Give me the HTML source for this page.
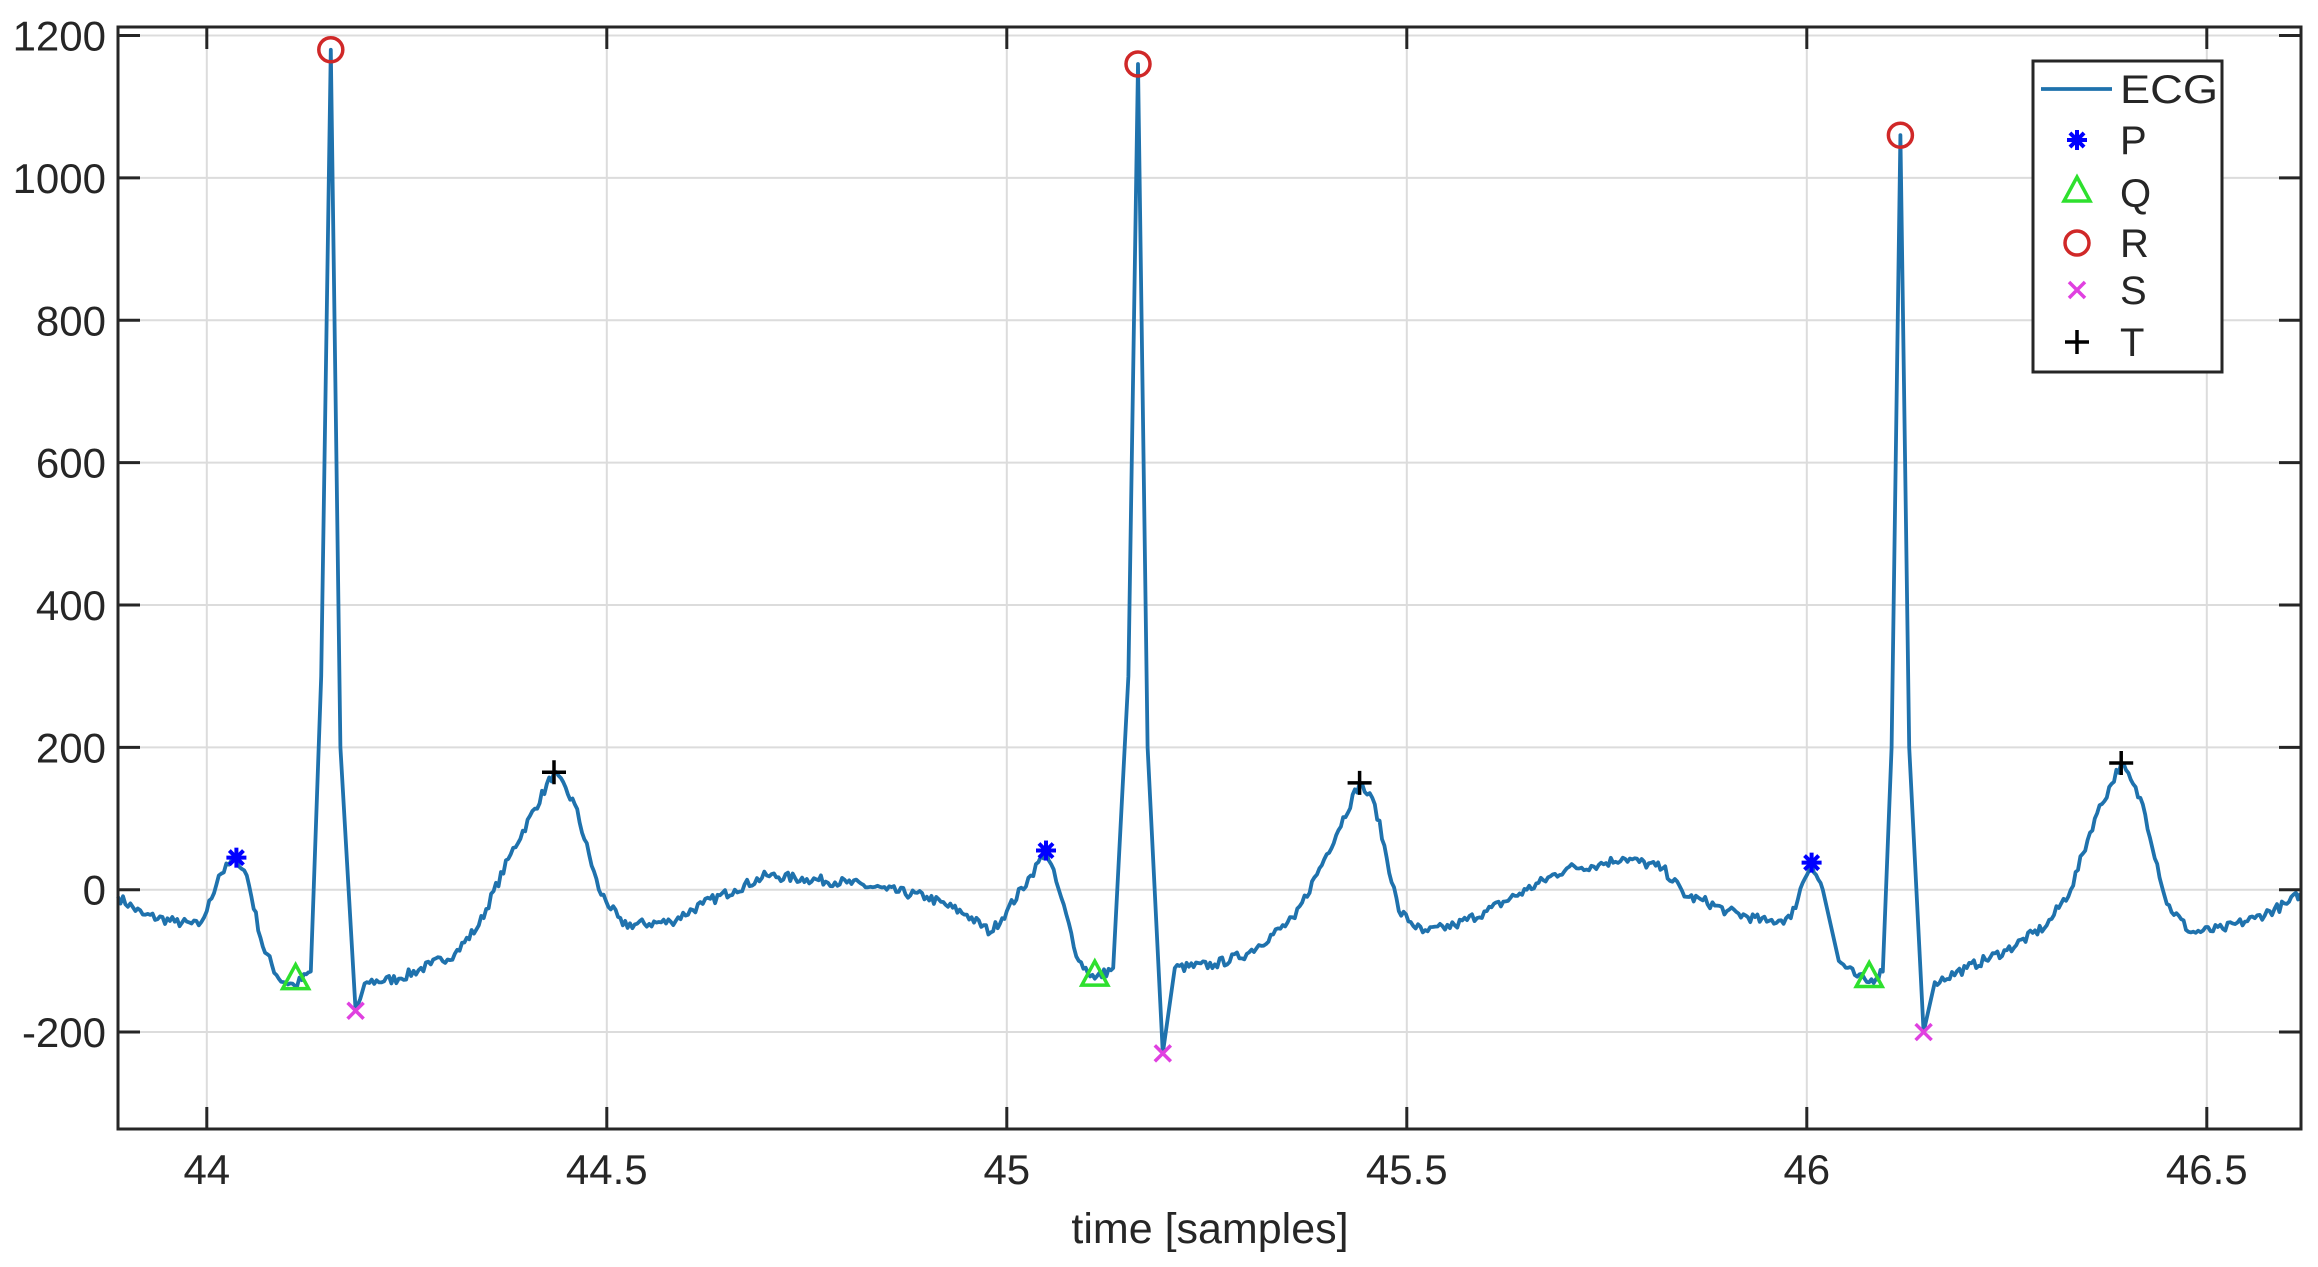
<!DOCTYPE html>
<html><head><meta charset="utf-8">
<style>
html,body{margin:0;padding:0;background:#fff;}
svg{display:block;}
text{font-family:"Liberation Sans",sans-serif;fill:#262626;}
</style></head>
<body>
<svg id="s" width="2318" height="1267" viewBox="0 0 2318 1267" xmlns="http://www.w3.org/2000/svg">
<rect width="2318" height="1267" fill="#fff"/>
<g id="grid" stroke="#dcdcdc" stroke-width="2"></g>
<path id="ecg" fill="none" stroke="#1f72ad" stroke-width="3.8" stroke-linejoin="round"/>
<g id="marks"></g>
<rect x="118" y="27" width="2183" height="1102" fill="none" stroke="#262626" stroke-width="3"/>
<g id="ticks" stroke="#262626" stroke-width="3"></g>
<g id="labels" font-size="42" ></g>
<text x="1210" y="1243" font-size="43" text-anchor="middle">time [samples]</text>
<g>
<rect x="2033" y="61" width="189" height="311" fill="#fff" stroke="#262626" stroke-width="3"/>
<line x1="2041" y1="89" x2="2112" y2="89" stroke="#1f72ad" stroke-width="3.8"/>
<g font-size="40">
<text x="2120" y="103" textLength="98" lengthAdjust="spacingAndGlyphs">ECG</text>
<text x="2120" y="154">P</text>
<text x="2120" y="207">Q</text>
<text x="2120" y="257">R</text>
<text x="2120" y="304">S</text>
<text x="2120" y="356">T</text>
</g>
<g id="legm"></g>
</g>
</svg>
<script>
var X=function(t){return 118+(t-43.889)*800;};
var Y=function(v){return 889.7-v*0.7118;};
var ns="http://www.w3.org/2000/svg";
function el(p,tag,a){var e=document.createElementNS(ns,tag);for(var k in a)e.setAttribute(k,a[k]);p.appendChild(e);return e;}
var grid=document.getElementById('grid'),ticks=document.getElementById('ticks'),labels=document.getElementById('labels');
[44,44.5,45,45.5,46,46.5].forEach(function(t){var x=X(t);
 el(grid,'line',{x1:x,y1:27,x2:x,y2:1129});
 el(ticks,'line',{x1:x,y1:1129,x2:x,y2:1107});el(ticks,'line',{x1:x,y1:27,x2:x,y2:49});
 var tx=el(labels,'text',{x:x,y:1184,'text-anchor':'middle'});tx.textContent=String(t);});
[-200,0,200,400,600,800,1000,1200].forEach(function(v){var y=Y(v);
 el(grid,'line',{x1:118,y1:y,x2:2301,y2:y});
 el(ticks,'line',{x1:118,y1:y,x2:140,y2:y});el(ticks,'line',{x1:2301,y1:y,x2:2279,y2:y});
 var tx=el(labels,'text',{x:106,y:y+15,'text-anchor':'end'});tx.textContent=String(v);});
var k=[[43.889,-10],[43.92,-35],[43.96,-45],[43.99,-50],[44.0,-30],[44.015,20],[44.037,45],[44.05,20],[44.07,-80],[44.09,-125],[44.11,-135],[44.13,-115],[44.143,300],[44.155,1180],[44.167,200],[44.186,-170],[44.2,-130],[44.24,-125],[44.28,-105],[44.31,-90],[44.34,-50],[44.38,50],[44.434,165],[44.46,120],[44.49,0],[44.52,-50],[44.58,-45],[44.62,-20],[44.66,0],[44.7,20],[44.75,15],[44.8,10],[44.85,0],[44.9,-10],[44.95,-35],[44.98,-60],[45.0,-30],[45.03,20],[45.049,55],[45.065,0],[45.09,-100],[45.11,-125],[45.133,-110],[45.152,300],[45.164,1160],[45.176,200],[45.195,-230],[45.21,-110],[45.26,-105],[45.3,-90],[45.36,-40],[45.4,50],[45.441,150],[45.46,120],[45.49,-30],[45.52,-60],[45.56,-50],[45.6,-30],[45.65,0],[45.7,30],[45.74,35],[45.77,45],[45.82,30],[45.85,-10],[45.87,-15],[45.9,-30],[45.95,-45],[45.98,-40],[45.995,10],[46.006,38],[46.02,0],[46.04,-100],[46.06,-120],[46.078,-130],[46.095,-115],[46.106,200],[46.117,1060],[46.128,200],[46.146,-200],[46.16,-130],[46.2,-110],[46.25,-85],[46.3,-50],[46.33,0],[46.36,100],[46.393,178],[46.42,120],[46.45,-20],[46.48,-60],[46.52,-55],[46.56,-40],[46.6,-20],[46.617,-5]];
var seed=7;function rnd(){seed=(seed*16807)%2147483647;return seed/2147483647-0.5;}
var d='',first=true;
for(var i=0;i<k.length-1;i++){var a=k[i],b=k[i+1];var steep=Math.abs(b[1]-a[1])/(b[0]-a[0])>5000;
 var n=steep?1:Math.max(1,Math.round((b[0]-a[0])/0.003));
 for(var j=0;j<n;j++){var f=j/n;var t=a[0]+(b[0]-a[0])*f;var v=a[1]+(b[1]-a[1])*f;if(j>0&&!steep)v+=rnd()*14;
  d+=(first?'M':'L')+X(t).toFixed(1)+','+Y(v).toFixed(1);first=false;}}
d+='L'+X(46.617)+','+Y(-5);
document.getElementById('ecg').setAttribute('d',d);
var m=document.getElementById('marks');
function star(g,x,y){for(var a=0;a<4;a++){var an=a*Math.PI/4;el(g,'line',{x1:x-10*Math.cos(an),y1:y-10*Math.sin(an),x2:x+10*Math.cos(an),y2:y+10*Math.sin(an),stroke:'#0000ff','stroke-width':4});}}
function tri(g,x,y){el(g,'polygon',{points:(x-13)+','+(y+10)+' '+(x+13)+','+(y+10)+' '+x+','+(y-14)});g.lastChild.setAttribute('fill','none');g.lastChild.setAttribute('stroke','#2ee02e');g.lastChild.setAttribute('stroke-width','3.5');}
function circ(g,x,y){el(g,'circle',{cx:x,cy:y,r:12,fill:'none',stroke:'#d02828','stroke-width':3.5});}
function cross(g,x,y){el(g,'path',{d:'M'+(x-8)+','+(y-8)+'L'+(x+8)+','+(y+8)+'M'+(x+8)+','+(y-8)+'L'+(x-8)+','+(y+8),stroke:'#e040e0','stroke-width':3.5});}
function plus(g,x,y){el(g,'path',{d:'M'+(x-12)+','+y+'L'+(x+12)+','+y+'M'+x+','+(y-12)+'L'+x+','+(y+12),stroke:'#000','stroke-width':3.5});}
[[44.037,45],[45.049,55],[46.006,38]].forEach(function(p){star(m,X(p[0]),Y(p[1]));});
[[44.111,-125],[45.11,-120],[46.078,-122]].forEach(function(p){tri(m,X(p[0]),Y(p[1]));});
[[44.155,1180],[45.164,1160],[46.117,1060]].forEach(function(p){circ(m,X(p[0]),Y(p[1]));});
[[44.186,-170],[45.195,-230],[46.146,-200]].forEach(function(p){cross(m,X(p[0]),Y(p[1]));});
[[44.434,165],[45.441,150],[46.393,178]].forEach(function(p){plus(m,X(p[0]),Y(p[1]));});
var lm=document.getElementById('legm');
star(lm,2077,140);tri(lm,2077,191);circ(lm,2077,243);cross(lm,2077,290);plus(lm,2077,342);
</script>
</body></html>
